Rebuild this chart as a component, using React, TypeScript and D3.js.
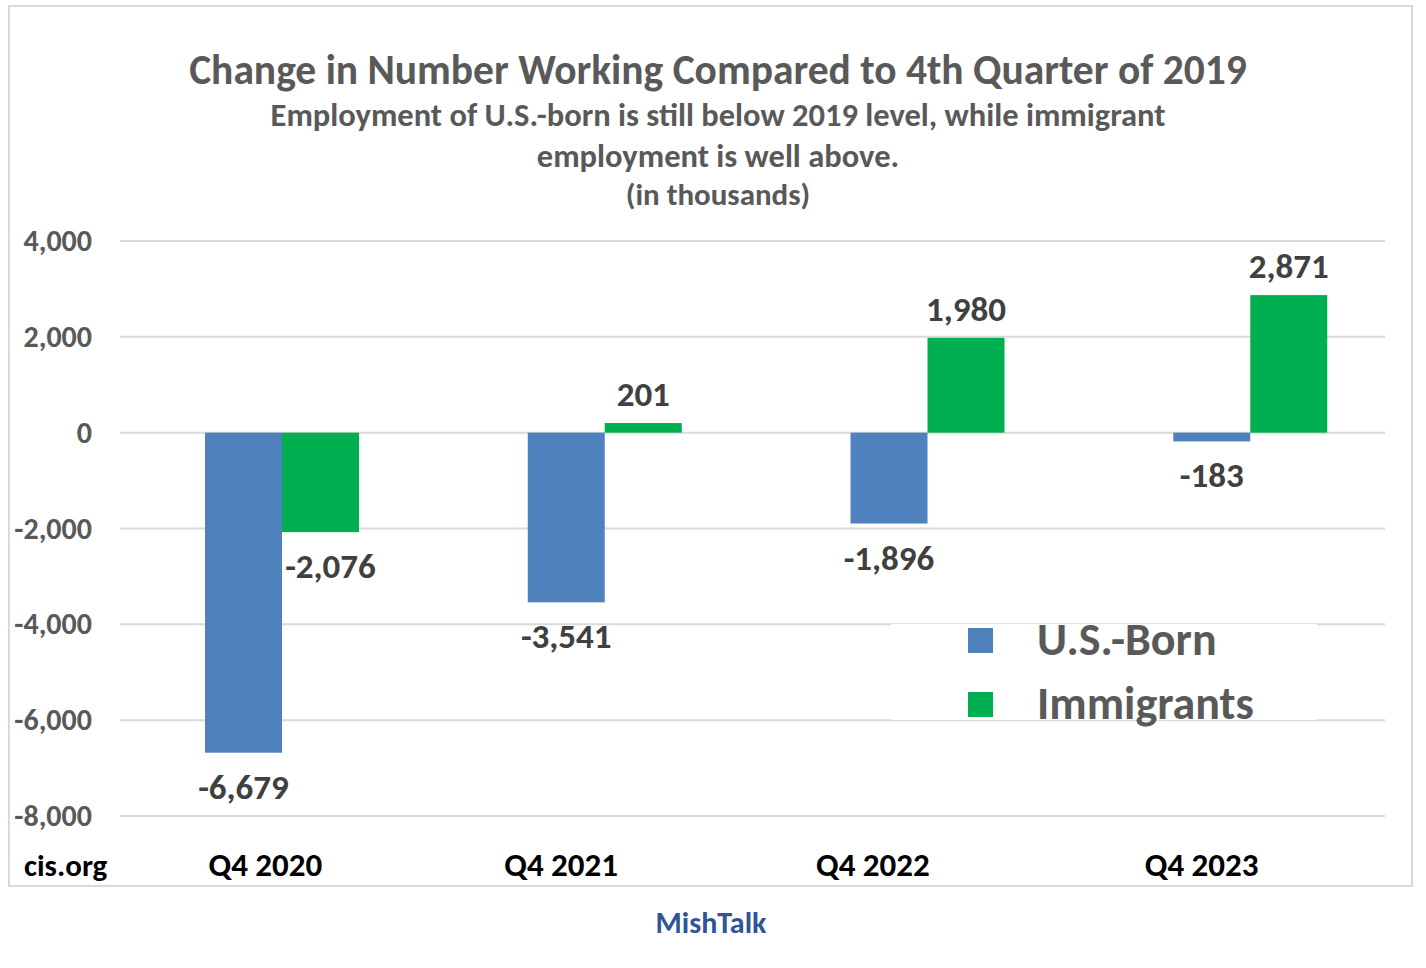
import React from 'react';
import * as d3 from 'd3';

// chart data
const categories = ['Q4 2020', 'Q4 2021', 'Q4 2022', 'Q4 2023'];
const usBorn = [-6679, -3541, -1896, -183];
const immigrants = [-2076, 201, 1980, 2871];
const yTicks = [4000, 2000, 0, -2000, -4000, -6000, -8000];
const seriesNames = ['U.S.-Born', 'Immigrants'];
const seriesColors = ['#4f81bd', '#00b050'];

const W = 1426;
const H = 968;
const FONT = 'Carlito, Lato, "Open Sans", sans-serif';
const GREY = '#595959';
// category labels in the original are not centred under their groups
const labelShift = [-17, -44, -55, -49];

const fmt = d3.formatLocale({ decimal: '.', thousands: ',', grouping: [3], currency: ['$', ''], minus: '-' }).format(',');

const App = () => {
  // y: 4000 -> 241, -8000 -> 816
  const y = d3.scaleLinear().domain([-8000, 4000]).range([816, 241]);
  const x0 = d3.scaleBand().domain(categories).range([121, 1412]);
  // two bars in the middle of each group
  const x1 = d3.scaleBand().domain(seriesNames).range([84, 238]);

  const series = [usBorn, immigrants];

  return (
    <svg width={W} height={H} style={{ position: 'absolute', left: 0, top: 0, background: '#fff' }} fontFamily={FONT}>
      {/* outer chart border */}
      <rect x={9} y={6} width={1403} height={880} fill="#fff" stroke="#d9d9d9" strokeWidth={2} />

      {/* titles */}
      <text x={718} y={84} textAnchor="middle" fontSize={41.5} fontWeight="bold" fill={GREY}>
        Change in Number Working Compared to 4th Quarter of 2019
      </text>
      <text x={718} y={126} textAnchor="middle" fontSize={32.5} fontWeight="bold" fill={GREY}>
        Employment of U.S.-born is still below 2019 level, while immigrant
      </text>
      <text x={718} y={167} textAnchor="middle" fontSize={32.5} fontWeight="bold" fill={GREY}>
        employment is well above.
      </text>
      <text x={718} y={205} textAnchor="middle" fontSize={31} fontWeight="bold" fill={GREY}>
        (in thousands)
      </text>

      {/* gridlines and y labels */}
      {yTicks.map((t) => (
        <g key={t}>
          <line x1={120} x2={1385} y1={y(t)} y2={y(t)} stroke="#d9d9d9" strokeWidth={2} />
          <text x={92} y={y(t) + 10} textAnchor="end" fontSize={30} fontWeight="bold" fill={GREY}>
            {fmt(t)}
          </text>
        </g>
      ))}

      {/* bars */}
      {categories.map((c, i) => (
        <g key={c} transform={`translate(${x0(c)},0)`}>
          {series.map((vals, s) => {
            const v = vals[i];
            return (
              <rect
                key={s}
                x={x1(seriesNames[s])}
                y={Math.min(y(v), y(0))}
                width={x1.bandwidth()}
                height={Math.abs(y(v) - y(0))}
                fill={seriesColors[s]}
              />
            );
          })}
        </g>
      ))}

      {/* value labels */}
      {categories.map((c, i) => (
        <g key={c + 'l'} transform={`translate(${x0(c)},0)`}>
          {series.map((vals, s) => {
            const v = vals[i];
            const cx = (x1(seriesNames[s]) as number) + x1.bandwidth() / 2 + (s === 1 && v < 0 ? 10 : 0);
            const ly = v >= 0 ? y(v) - 17 : y(v) + 46;
            return (
              <text key={s} x={cx} y={ly} textAnchor="middle" fontSize={35} fontWeight="bold" fill="#404040">
                {fmt(v)}
              </text>
            );
          })}
        </g>
      ))}

      {/* category labels */}
      {categories.map((c, i) => (
        <text
          key={c + 'x'}
          x={(x0(c) as number) + x0.bandwidth() / 2 + labelShift[i]}
          y={876}
          textAnchor="middle"
          fontSize={33}
          fontWeight="bold"
          fill="#000"
        >
          {c}
        </text>
      ))}
      <text x={24} y={876} fontSize={31} fontWeight="bold" fill="#000">
        cis.org
      </text>

      {/* legend */}
      <rect x={891} y={624} width={426} height={96} fill="#fff" />
      {seriesNames.map((n, s) => (
        <g key={n} transform={`translate(968,${628 + s * 64})`}>
          <rect width={25} height={25} fill={seriesColors[s]} />
          <text x={69} y={27} fontSize={46} fontWeight="bold" fill={GREY}>
            {n}
          </text>
        </g>
      ))}

      <text x={711} y={933} textAnchor="middle" fontSize={30} fontWeight="bold" fill="#2f5597">
        MishTalk
      </text>
    </svg>
  );
};

export default App;
